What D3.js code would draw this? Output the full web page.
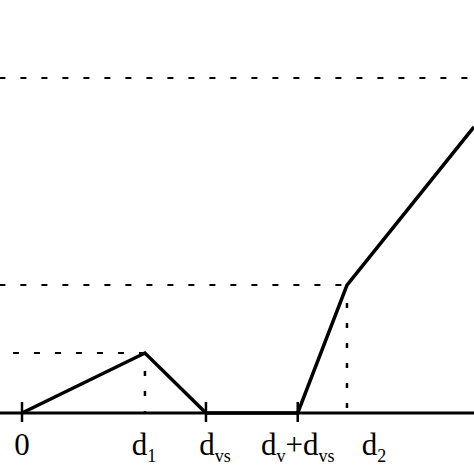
<!DOCTYPE html>
<html lang="en">
<head>
  <meta charset="UTF-8">
  <title>Piecewise chart</title>
  <style>
    body { margin: 0; background: #fff; }
    text { font-family: "Liberation Serif", "DejaVu Serif", serif; fill: #000; }
  </style>
</head>
<body>
<div id="chart"></div>
<script src="https://cdn.jsdelivr.net/npm/d3@7"></script>
<script>

// distances along the axis (arbitrary units)
const pointX = [0, 2.72, 4.07, 6.1, 7.19, 10];
// value at each of those points
const pointY = [0, 1.79, 0, 0, 3.82, 8.54];

// labels under the axis
const tickNames = ["0", "d_1", "d_vs", "d_v+d_vs", "d_2"];
const tickValues = [0, 2.72, 4.07, 6.1, 7.19];
// which of those get a little tick mark
const tickMarked = [true, false, true, true, false];

// horizontal reference levels
const levels = [10, 3.82, 1.79];
const levelStart = [-0.5, -0.5, -0.2];
const levelEnd = [10.5, 7.19, 2.72];

const width = 474, height = 474;

const x = d3.scaleLinear().domain([0, 10]).range([22, 474]);
const y = d3.scaleLinear().domain([0, 10]).range([413, 78]);

const svg = d3.select("#chart")
  .append("svg")
  .attr("width", width)
  .attr("height", height);

// dashed horizontal levels
svg.selectAll(".level")
  .data(levels)
  .enter().append("line")
  .attr("class", "level")
  .attr("x1", (d, i) => x(levelStart[i]))
  .attr("x2", (d, i) => x(levelEnd[i]))
  .attr("y1", d => y(d))
  .attr("y2", d => y(d))
  .style("stroke", "#000")
  .style("stroke-width", 2)
  .style("stroke-dasharray", "6 15");

// dotted drops at d1 and d2
const drops = [1, 4];
svg.selectAll(".drop")
  .data(drops)
  .enter().append("line")
  .attr("class", "drop")
  .attr("x1", i => x(pointX[i]))
  .attr("x2", i => x(pointX[i]))
  .attr("y1", i => y(pointY[i]) + 18)
  .attr("y2", y(0))
  .style("stroke", "#000")
  .style("stroke-width", 2.5)
  .style("stroke-dasharray", "5 15");

// the axis itself
svg.append("line")
  .attr("x1", 0)
  .attr("x2", width)
  .attr("y1", y(0))
  .attr("y2", y(0))
  .style("stroke", "#000")
  .style("stroke-width", 3);

// tick marks
svg.selectAll(".tick")
  .data(tickValues.filter((d, i) => tickMarked[i]))
  .enter().append("line")
  .attr("class", "tick")
  .attr("x1", d => x(d))
  .attr("x2", d => x(d))
  .attr("y1", y(0) - 11)
  .attr("y2", y(0) + 9)
  .style("stroke", "#000")
  .style("stroke-width", 2.5);

// the piecewise curve
const line = d3.line()
  .x(d => x(d[0]))
  .y(d => y(d[1]));

svg.append("path")
  .datum(pointX.map((d, i) => [d, pointY[i]]))
  .attr("d", line)
  .style("fill", "none")
  .style("stroke", "#000")
  .style("stroke-width", 3.5)
  .style("stroke-linejoin", "miter");

// labels, pushed a bit where they would crowd
const labelShift = { "d_1": -1, "d_vs": 9, "d_v+d_vs": 0, "d_2": 27 };

const labels = svg.selectAll(".lab")
  .data(tickNames)
  .enter().append("text")
  .attr("class", "lab")
  .attr("x", (d, i) => x(tickValues[i]) + (labelShift[d] || 0))
  .attr("y", 455)
  .attr("text-anchor", "middle")
  .style("font-size", "31px");

labels.each(function(name) {
  const t = d3.select(this);
  // split "d_v+d_vs" into base and subscript bits
  const parts = name.split(/(_[^+]+)/).filter(p => p.length);
  let down = 0;
  parts.forEach(p => {
    if (p[0] === "_") {
      t.append("tspan").attr("dy", 7 - down).style("font-size", "18px").text(p.slice(1));
      down = 7;
    } else {
      t.append("tspan").attr("dy", -down).text(p);
      down = 0;
    }
  });
});

</script>
</body>
</html>
